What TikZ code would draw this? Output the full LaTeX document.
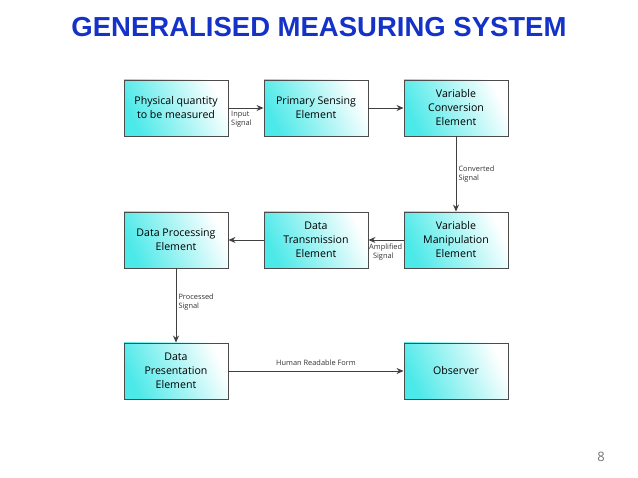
\documentclass[tikz,border=0pt]{standalone}
\usepackage{fontspec}
\setmainfont{Open Sans}
\newfontfamily\titlefont{Liberation Sans}
\usetikzlibrary{arrows.meta}
\definecolor{titleblue}{RGB}{20,50,200}
\tikzset{
  blk/.style={draw=black!70, line width=0.9pt, minimum width=104pt, minimum height=56pt, align=center,
    left color=cyan!75!teal!70, right color=white, shading angle=115, font=\fontsize{10.6}{14}\selectfont},
  conn/.style={-{Stealth[length=7pt,width=6pt]}, line width=0.9pt, draw=black!75},
  lbl/.style={font=\fontsize{7.4}{9}\selectfont, align=left, text=black!80}
}
\begin{document}
\begin{tikzpicture}[x=1pt,y=-1pt]
\useasboundingbox (0,0) rectangle (638,478);
\node[font=\titlefont\bfseries\fontsize{27.5}{30}\selectfont, text=titleblue] (title) at (319,27) {GENERALISED MEASURING SYSTEM};
\node[blk] (pq) at (176,108) {Physical quantity\\to be measured};
\node[blk] (ps) at (316,108) {Primary Sensing\\Element};
\node[blk] (vc) at (456,108) {Variable\\Conversion\\Element};
\node[blk] (dp) at (176,240) {Data Processing\\Element};
\node[blk] (dt) at (316,240) {Data\\Transmission\\Element};
\node[blk] (vm) at (456,240) {Variable\\Manipulation\\Element};
\node[blk] (dpr) at (176,371) {Data\\Presentation\\Element};
\node[blk] (ob) at (456,371) {Observer};
\draw[conn] (pq) -- (ps);
\draw[conn] (ps) -- (vc);
\draw[conn] (vc) -- (vm);
\draw[conn] (vm) -- (dt);
\draw[conn] (dt) -- (dp);
\draw[conn] (dp) -- (dpr);
\draw[conn] (dpr) -- (ob);
\node[lbl, anchor=north west, inner sep=1pt] (l1) at (230,110) {Input\\Signal};
\node[lbl, anchor=west] (l2) at (455,174) {Converted\\Signal};
\node[lbl, anchor=north west, inner sep=1pt] (l3) at (368,243) {Amplified\\\ \ Signal};
\node[lbl, anchor=west] (l4) at (175,302) {Processed\\Signal};
\node[lbl, anchor=south] (l5) at (316,369) {Human Readable Form};
\node[font=\fontsize{13}{15}\selectfont, text=black!55] (pg) at (601,457) {8};
\end{tikzpicture}
\end{document}
